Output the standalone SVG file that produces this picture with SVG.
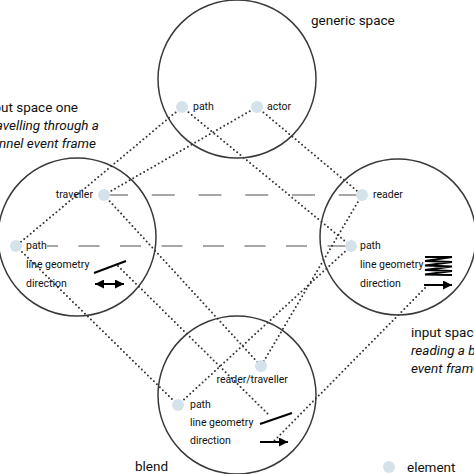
<svg xmlns="http://www.w3.org/2000/svg" width="474" height="474" viewBox="0 0 474 474">
<style>
.space{fill:none;stroke:#3a3a3a;stroke-width:1.5}
.el{fill:#d4e3ea}
.lbl{font-family:Roboto,"Open Sans",sans-serif;font-size:10.5px;fill:#111}
.title{font-family:Roboto,"Open Sans",sans-serif;font-size:13.5px;fill:#111}
.it{font-style:italic}
.dash{stroke:#8a8a8a;stroke-width:1.5;fill:none}
.dot{stroke:#333;stroke-width:2;stroke-linecap:round;stroke-dasharray:0 4.2;fill:none}
.sym{stroke:#000;stroke-width:2;fill:none}
</style>
<defs>
<marker id="ah" markerUnits="userSpaceOnUse" markerWidth="10" markerHeight="9" refX="9" refY="4.5" orient="auto-start-reverse">
<path d="M0,0 L9,4.5 L0,9 z" fill="#000"/>
</marker>
</defs>
<rect width="474" height="474" fill="#fff"/>

<g id="connectors">
<line class="dash" x1="105" y1="195" x2="362" y2="195" stroke-dasharray="23 23.75"/>
<line class="dash" x1="47" y1="246" x2="351" y2="246" stroke-dasharray="21 20.5" stroke-dashoffset="10"/>
<line class="dot" x1="182" y1="107" x2="16" y2="246"/>
<line class="dot" x1="182" y1="107" x2="351" y2="246"/>
<line class="dot" x1="257" y1="107" x2="104" y2="195"/>
<line class="dot" x1="257" y1="107" x2="362" y2="195"/>
<line class="dot" x1="104" y1="195" x2="261" y2="366"/>
<line class="dot" x1="16" y1="246" x2="178" y2="405"/>
<line class="dot" x1="118" y1="266" x2="270" y2="416"/>
<line class="dot" x1="362" y1="195" x2="261" y2="366"/>
<line class="dot" x1="351" y1="246" x2="178" y2="405"/>
<line class="dot" x1="425" y1="288" x2="274" y2="441"/>
</g>

<g id="generic-space">
<circle class="space" cx="237" cy="79" r="79"/>
<text class="title" x="311" y="25">generic space</text>
<circle class="el" cx="182" cy="107" r="6"/>
<text class="lbl" x="193" y="110">path</text>
<circle class="el" cx="257" cy="107" r="6"/>
<text class="lbl" x="267" y="110">actor</text>
</g>

<g id="input-space-one">
<circle class="space" cx="77" cy="237" r="79"/>
<text class="title" x="78" y="112" text-anchor="end">input space one</text>
<text class="title it" x="99" y="130" text-anchor="end">travelling through a</text>
<text class="title it" x="96" y="148" text-anchor="end">channel event frame</text>
<circle class="el" cx="104" cy="195" r="6"/>
<text class="lbl" x="93" y="198" text-anchor="end">traveller</text>
<circle class="el" cx="16" cy="246" r="6"/>
<text class="lbl" x="26" y="249">path</text>
<text class="lbl" x="26" y="268">line geometry</text>
<text class="lbl" x="26" y="287">direction</text>
<line class="sym" x1="94" y1="273" x2="126" y2="261"/>
<line class="sym" x1="95" y1="284" x2="124" y2="284" marker-start="url(#ah)" marker-end="url(#ah)"/>
</g>

<g id="input-space-two">
<circle class="space" cx="398" cy="237" r="78"/>
<text class="title" x="411" y="337">input space two</text>
<text class="title it" x="411" y="355">reading a book</text>
<text class="title it" x="411" y="373">event frame</text>
<circle class="el" cx="362" cy="195" r="6"/>
<text class="lbl" x="373" y="198">reader</text>
<circle class="el" cx="351" cy="246" r="6"/>
<text class="lbl" x="360" y="249">path</text>
<text class="lbl" x="360" y="268">line geometry</text>
<text class="lbl" x="360" y="287">direction</text>
<polyline class="sym" stroke-width="1.9" points="425,257 452,257 425,261 452,262 425,265.5 452,266.5 425,270 452,271 425,274.5 452,275"/>
<line class="sym" x1="424" y1="285" x2="452" y2="285" marker-end="url(#ah)"/>
</g>

<g id="blend">
<circle class="space" cx="237" cy="395" r="79"/>
<text class="title" x="135" y="471">blend</text>
<circle class="el" cx="261" cy="366" r="6"/>
<text class="lbl" x="216.5" y="383">reader/traveller</text>
<circle class="el" cx="178" cy="405" r="6"/>
<text class="lbl" x="190" y="408">path</text>
<text class="lbl" x="190" y="426">line geometry</text>
<text class="lbl" x="190" y="444">direction</text>
<line class="sym" x1="260" y1="424" x2="292" y2="413"/>
<line class="sym" x1="260" y1="442" x2="288" y2="442" marker-end="url(#ah)"/>
</g>

<g id="legend">
<circle class="el" cx="389" cy="467" r="6"/>
<text class="title" x="407" y="472">element</text>
</g>
</svg>
